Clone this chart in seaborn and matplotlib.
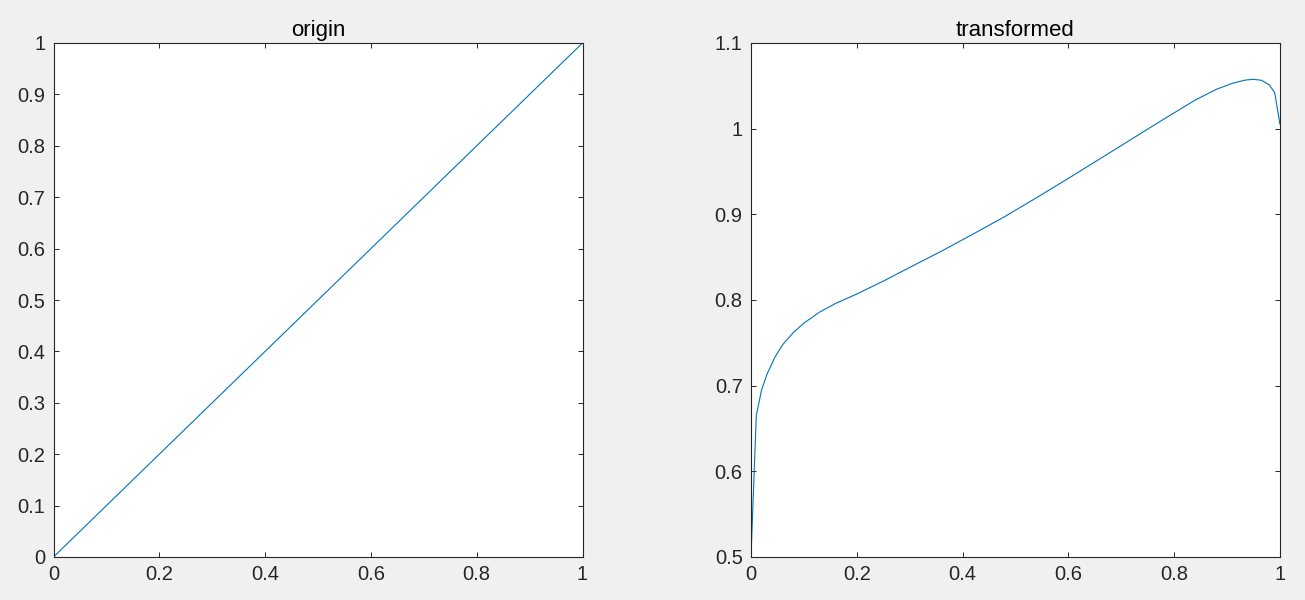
import numpy as np
import pandas as pd
import matplotlib
matplotlib.use("Agg")
import matplotlib.pyplot as plt
import seaborn as sns

# ---- data ----
origin_x = [0.0, 1.0]
origin_y = [0.0, 1.0]

trans_x = [0.0, 0.01, 0.02, 0.03, 0.045, 0.06, 0.08, 0.10, 0.13, 0.16,
           0.20, 0.25, 0.30, 0.36, 0.42, 0.48, 0.54, 0.60, 0.66, 0.72,
           0.78, 0.84, 0.88, 0.91, 0.935, 0.95, 0.965, 0.98, 0.99, 1.0]
trans_y = [0.500, 0.665, 0.695, 0.713, 0.733, 0.748, 0.762, 0.773, 0.786, 0.796,
           0.807, 0.822, 0.838, 0.857, 0.877, 0.8975, 0.9195, 0.942, 0.965, 0.988,
           1.011, 1.0335, 1.046, 1.053, 1.0568, 1.0576, 1.0565, 1.051, 1.042, 1.005]

origin_xticks = [0, 0.2, 0.4, 0.6, 0.8, 1]
origin_yticks = [0, 0.1, 0.2, 0.3, 0.4, 0.5, 0.6, 0.7, 0.8, 0.9, 1]
trans_xticks = [0, 0.2, 0.4, 0.6, 0.8, 1]
trans_yticks = [0.5, 0.6, 0.7, 0.8, 0.9, 1, 1.1]

titles = ["origin", "transformed"]

sns.set_style("ticks")
plt.rcParams['font.family'] = ['Liberation Sans', 'DejaVu Sans']

line_color = "#0072BD"
edge = "#262626"

fig = plt.figure(figsize=(13.05, 6.0), dpi=100, facecolor="#f0f0f0")
ax1 = fig.add_axes([53.5 / 1305, 43 / 600, 529 / 1305, 514 / 600])
ax2 = fig.add_axes([751 / 1305, 43 / 600, 529 / 1305, 514 / 600])

df1 = pd.DataFrame({"x": origin_x, "y": origin_y})
df2 = pd.DataFrame({"x": trans_x, "y": trans_y})

sns.lineplot(data=df1, x="x", y="y", ax=ax1, color=line_color, linewidth=0.8, sort=False)
sns.lineplot(data=df2, x="x", y="y", ax=ax2, color=line_color, linewidth=0.8, sort=False)


def fmt(v):
    s = f"{v:.1f}"
    if s.endswith(".0"):
        s = s[:-2]
    return s


for ax, xt, yt, ttl, ylim in [
    (ax1, origin_xticks, origin_yticks, titles[0], (0, 1)),
    (ax2, trans_xticks, trans_yticks, titles[1], (0.5, 1.1)),
]:
    ax.set_facecolor("white")
    ax.set_xlim(0, 1)
    ax.set_ylim(*ylim)
    ax.set_xticks(xt)
    ax.set_yticks(yt)
    ax.set_xticklabels([fmt(v) for v in xt])
    ax.set_yticklabels([fmt(v) for v in yt])
    ax.set_xlabel("")
    ax.set_ylabel("")
    ax.tick_params(direction="in", length=3.6, width=0.7, colors=edge,
                   labelsize=14.5, top=True, right=True, pad=6)
    ax.tick_params(axis="y", pad=6)
    for sp in ax.spines.values():
        sp.set_visible(True)
        sp.set_color(edge)
        sp.set_linewidth(0.8)
    ax.set_title(ttl, fontsize=16, color="black", pad=5)

fig.savefig("out.png", dpi=100, facecolor=fig.get_facecolor())
